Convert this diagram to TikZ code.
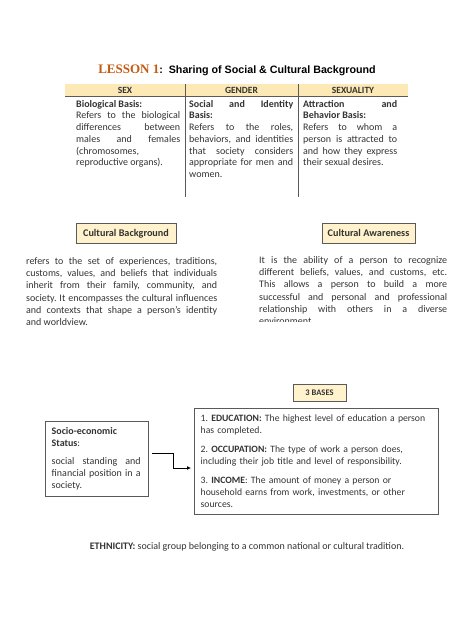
\documentclass[tikz,border=0pt]{standalone}
\usepackage{fontspec}
\setmainfont{Carlito}
\newfontfamily\titleserif{Liberation Serif}
\newfontfamily\titlesans{Liberation Sans}
\usepackage{tikz}
\usetikzlibrary{positioning,arrows.meta}
\definecolor{lessonorange}{HTML}{C55A11}
\definecolor{headyellow}{HTML}{FDE9B5}
\definecolor{paleyellow}{HTML}{FFF2CC}
\definecolor{ink}{HTML}{333333}
\definecolor{rulegray}{HTML}{5A5A5A}
\newcommand\bodyfont{\fontsize{10}{11.7}\selectfont}
\hyphenpenalty=10000
\exhyphenpenalty=10000
\frenchspacing

\begin{document}
\begin{tikzpicture}[
  x=1pt,y=-1pt,
  hd/.style={rectangle,fill=headyellow,minimum height=12,inner sep=0,outer sep=0,
             font=\fontsize{9.5}{11}\selectfont\bfseries,text=ink},
  cell/.style={anchor=north west,inner sep=0,align=justify,font=\bodyfont,text=ink},
  tag/.style={rectangle,draw=rulegray,fill=paleyellow,minimum height=20,inner sep=0,
              font=\fontsize{10.2}{12}\selectfont\bfseries,text=ink},
  box/.style={rectangle,draw=rulegray,anchor=north west,inner xsep=7,inner ysep=4,
              font=\bodyfont,text=ink},
  tablerule/.style={draw=rulegray,line width=0.9pt},
  arr/.style={-{Latex[length=4pt,width=4pt]},line width=0.8pt,black}
]
\useasboundingbox (0,0) rectangle (474,632);
\node (title) at (237,70) {{\titleserif\fontsize{13}{15}\selectfont\bfseries\color{lessonorange}LESSON 1}%
  {\titlesans\fontsize{10.7}{12}\selectfont\bfseries:\ \ Sharing of Social \& Cultural Background}};
\node[hd,minimum width=120,anchor=north west] (sexhd) at (65,84) {SEX};
\node[hd,minimum width=113,right=0pt of sexhd] (genhd) {GENDER};
\node[hd,minimum width=110,right=0pt of genhd] (sexlhd) {SEXUALITY};
\draw[tablerule,line width=0.6pt] (sexhd.south west) -- (sexlhd.south east);
\draw[tablerule] (sexhd.north east) -- ++(0,113);
\draw[tablerule] (genhd.north east) -- ++(0,113);
\node[cell,text width=104] (sexcell) at (76,100) {\textbf{Biological Basis:}\par
  Refers to the biological\linebreak differences between\linebreak males and females\linebreak
  (chromosomes,\newline reproductive organs).};
\node[cell,text width=104] (gencell) at (189,100) {\textbf{Social and Identity\linebreak Basis:}\par
  Refers to the roles,\linebreak behaviors, and identities\linebreak that society considers\linebreak
  appropriate for men and\linebreak women.};
\node[cell,text width=94] (sexlcell) at (303,100) {\textbf{Attraction and\linebreak Behavior Basis:}\par
  Refers to whom a\linebreak person is attracted to\linebreak and how they express\linebreak their sexual desires.};
\node[tag,minimum width=100] (cbtag) at (126,233.5) {Cultural Background};
\node[tag,minimum width=93] (catag) at (368.5,233) {Cultural Awareness};
\node[cell,text width=191,font=\fontsize{10}{12.3}\selectfont] (cbtext) at (26,257) {refers to the set of experiences, traditions,\linebreak
  customs, values, and beliefs that individuals\linebreak inherit from their family, community, and\linebreak
  society. It encompasses the cultural influences\linebreak and contexts that shape a person’s identity\linebreak
  and worldview.};
\begin{scope}
\clip (250,250) rectangle (460,321.5);
\node[cell,text width=188,font=\fontsize{10}{12.3}\selectfont] (catext) at (259,256) {It is the ability of a person to recognize\linebreak
  different beliefs, values, and customs, etc.\linebreak This allows a person to build a more\linebreak
  successful and personal and professional\linebreak relationship with others in a diverse\linebreak environment};
\end{scope}
\node[tag,minimum width=53,minimum height=17,font=\fontsize{8.5}{10}\selectfont\bfseries] (basestag) at (319.5,392.5) {3 BASES};
\node[box,minimum width=244,minimum height=106,text width=230,inner xsep=6,align=left,
      font=\fontsize{9.7}{12.2}\selectfont] (bases) at (193.5,408) {%
  1. \textbf{EDUCATION:} The highest level of education a person\\ has completed.\\[6.5pt]
  2. \textbf{OCCUPATION:} The type of work a person does,\\ including their job title and level of responsibility.\\[6.5pt]
  3. \textbf{INCOME}: The amount of money a person or\\ household earns from work, investments, or other\\ sources.};
\node[box,minimum height=75,text width=89,align=justify] (ses) at (44.5,421) {%
  \textbf{Socio-economic}\newline \textbf{Status}:\par\vspace{7pt}
  social standing and\linebreak financial position in a\linebreak society.};
\coordinate (sesout) at (152,453);
\coordinate (basesin) at (191,468);
\draw[arr] (sesout) -- ++(21,0) |- (basesin);
\node[font=\bodyfont,text=ink] (ethnicity) at (247,547) {\textbf{ETHNICITY:} social group belonging to a common national or cultural tradition.};
\end{tikzpicture}
\end{document}
